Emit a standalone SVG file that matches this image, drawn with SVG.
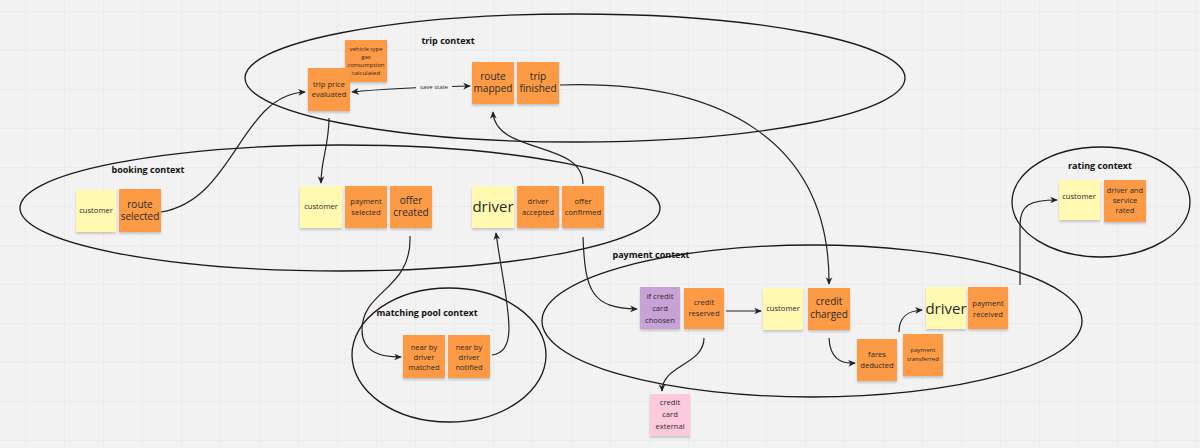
<svg xmlns="http://www.w3.org/2000/svg" width="1200" height="448" viewBox="0 0 1200 448">
<defs>
<pattern id="grid" width="39" height="39" patternUnits="userSpaceOnUse" x="26" y="12">
<rect width="39" height="39" fill="#f2f2f2"/>
<path d="M39 0V39M0 39H39" stroke="#e4e4e4" stroke-width="1" fill="none"/>
</pattern>
<marker id="ah" viewBox="0 0 10 10" refX="8" refY="5" markerWidth="7" markerHeight="7" orient="auto-start-reverse">
<path d="M0 1L9 5L0 9L2.5 5Z" fill="#222"/>
</marker>
<filter id="sh" x="-20%" y="-20%" width="140%" height="150%"><feDropShadow dx="0" dy="2" stdDeviation="1.2" flood-color="#000" flood-opacity="0.18"/></filter>
</defs>
<style>
.ctx{fill:none;stroke:#1a1a1a;stroke-width:1.3}
.lbl{font-family:"Open Sans","Liberation Sans",sans-serif;font-weight:bold;font-size:9px;fill:#111;text-anchor:middle}
.o{fill:#fc9a45;filter:url(#sh)}
.y{fill:#fff9b1;filter:url(#sh)}
.p{fill:#c8a2d6;filter:url(#sh)}
.k{fill:#fdc9dd;filter:url(#sh)}
text{font-family:"Open Sans","Liberation Sans",sans-serif;fill:#2a2a2a;text-anchor:middle}
.m{font-size:10px}
.s{font-size:7.6px}
.xs{font-size:6px}
.b{font-size:15px}
.c{fill:none;stroke:#222;stroke-width:1.2}
</style>
<rect width="1200" height="448" fill="url(#grid)"/>
<g id="contexts">
<ellipse class="ctx" cx="575" cy="78" rx="330" ry="64"/>
<text class="lbl" x="448" y="44">trip context</text>
<ellipse class="ctx" cx="340" cy="208" rx="320" ry="63"/>
<text class="lbl" x="148" y="173">booking context</text>
<ellipse class="ctx" cx="449" cy="355" rx="97" ry="67"/>
<text class="lbl" x="427" y="316">matching pool context</text>
<ellipse class="ctx" cx="812" cy="321" rx="270" ry="76"/>
<text class="lbl" x="651" y="258">payment context</text>
<ellipse class="ctx" cx="1101" cy="202" rx="89" ry="55"/>
<text class="lbl" x="1100" y="169">rating context</text>
</g>
<g id="connectors">
<path class="c" d="M161,212 C235,200 240,95 305,92" marker-end="url(#ah)"/>
<path class="c" d="M352,92 C390,88 430,87 470,86" marker-start="url(#ah)" marker-end="url(#ah)"/>
<rect x="416" y="82" width="36" height="9" fill="#f2f2f2"/>
<text class="xs" x="434" y="89">save state</text>
<path class="c" d="M329,118 C329,145 321,160 321,183" marker-end="url(#ah)"/>
<path class="c" d="M560,85 C720,80 830,140 829,284" marker-end="url(#ah)"/>
<path class="c" d="M583,184 C583,140 495,155 493,112" marker-end="url(#ah)"/>
<path class="c" d="M410,236 C412,290 362,290 362,330 C362,352 380,357 401,357" marker-end="url(#ah)"/>
<path class="c" d="M492,355 C522,352 505,300 496,233" marker-end="url(#ah)"/>
<path class="c" d="M583,237 C585,292 592,308 637,309" marker-end="url(#ah)"/>
<path class="c" d="M726,311 L761,311" marker-end="url(#ah)"/>
<path class="c" d="M704,338 C704,365 662,365 662,391" marker-end="url(#ah)"/>
<path class="c" d="M829,338 C830,358 840,364 855,363" marker-end="url(#ah)"/>
<path class="c" d="M899,332 C899,318 906,311 922,310" marker-end="url(#ah)"/>
<path class="c" d="M1020,285 L1020,225 C1020,205 1030,200 1057,200" marker-end="url(#ah)"/>
</g>
<g id="n-vehicle"><rect class="o" x="345" y="40" width="42" height="42"/><text class="xs"><tspan x="366" y="51">vehicle type</tspan><tspan x="366" y="59">gas</tspan><tspan x="366" y="67">consumption</tspan><tspan x="366" y="75">calculated</tspan></text></g>
<g id="n-tripprice"><rect class="o" x="308" y="68" width="42" height="43"/><text class="s"><tspan x="329" y="87">trip price</tspan><tspan x="329" y="97">evaluated</tspan></text></g>
<g id="n-routemapped"><rect class="o" x="472" y="62" width="42" height="42"/><text class="m"><tspan x="493" y="80">route</tspan><tspan x="493" y="92">mapped</tspan></text></g>
<g id="n-tripfinished"><rect class="o" x="517" y="62" width="42" height="42"/><text class="m"><tspan x="538" y="80">trip</tspan><tspan x="538" y="92">finished</tspan></text></g>
<g id="n-customer1"><rect class="y" x="76" y="190" width="40" height="42"/><text class="s" x="96" y="213">customer</text></g>
<g id="n-routeselected"><rect class="o" x="119" y="189" width="42" height="43"/><text class="m"><tspan x="140" y="208">route</tspan><tspan x="140" y="220">selected</tspan></text></g>
<g id="n-customer2"><rect class="y" x="300" y="186" width="42" height="42"/><text class="s" x="321" y="209">customer</text></g>
<g id="n-payselected"><rect class="o" x="345" y="186" width="42" height="42"/><text class="s"><tspan x="366" y="204">payment</tspan><tspan x="366" y="215">selected</tspan></text></g>
<g id="n-offercreated"><rect class="o" x="390" y="186" width="42" height="42"/><text class="m"><tspan x="411" y="204">offer</tspan><tspan x="411" y="216">created</tspan></text></g>
<g id="n-driver1"><rect class="y" x="472" y="186" width="42" height="42"/><text class="b" x="493" y="212">driver</text></g>
<g id="n-driveraccepted"><rect class="o" x="517" y="186" width="42" height="42"/><text class="s"><tspan x="538" y="204">driver</tspan><tspan x="538" y="215">accepted</tspan></text></g>
<g id="n-offerconfirmed"><rect class="o" x="562" y="186" width="42" height="42"/><text class="s"><tspan x="583" y="204">offer</tspan><tspan x="583" y="215">confirmed</tspan></text></g>
<g id="n-matched"><rect class="o" x="403" y="335" width="42" height="43"/><text class="s"><tspan x="424" y="350">near by</tspan><tspan x="424" y="360">driver</tspan><tspan x="424" y="370">matched</tspan></text></g>
<g id="n-notified"><rect class="o" x="448" y="335" width="42" height="43"/><text class="s"><tspan x="469" y="350">near by</tspan><tspan x="469" y="360">driver</tspan><tspan x="469" y="370">notified</tspan></text></g>
<g id="n-ifcc"><rect class="p" x="640" y="287" width="40" height="42"/><text class="s"><tspan x="660" y="299">if credit</tspan><tspan x="660" y="311">card</tspan><tspan x="660" y="323">choosen</tspan></text></g>
<g id="n-creditreserved"><rect class="o" x="684" y="288" width="40" height="41"/><text class="s"><tspan x="704" y="305">credit</tspan><tspan x="704" y="316">reserved</tspan></text></g>
<g id="n-customer3"><rect class="y" x="763" y="288" width="40" height="42"/><text class="s" x="783" y="311">customer</text></g>
<g id="n-creditcharged"><rect class="o" x="808" y="288" width="42" height="42"/><text class="m"><tspan x="829" y="305">credit</tspan><tspan x="829" y="318">charged</tspan></text></g>
<g id="n-fares"><rect class="o" x="857" y="339" width="40" height="42"/><text class="s"><tspan x="877" y="357">fares</tspan><tspan x="877" y="368">deducted</tspan></text></g>
<g id="n-paytransferred"><rect class="o" x="903" y="334" width="40" height="42"/><text class="xs"><tspan x="923" y="352">payment</tspan><tspan x="923" y="361">transferred</tspan></text></g>
<g id="n-driver2"><rect class="y" x="926" y="287" width="40" height="42"/><text class="b" x="946" y="314">driver</text></g>
<g id="n-payreceived"><rect class="o" x="968" y="287" width="40" height="42"/><text class="s"><tspan x="988" y="306">payment</tspan><tspan x="988" y="317">received</tspan></text></g>
<g id="n-ccexternal"><rect class="k" x="650" y="394" width="40" height="42"/><text class="s"><tspan x="670" y="405">credit</tspan><tspan x="670" y="417">card</tspan><tspan x="670" y="429">external</tspan></text></g>
<g id="n-customer4"><rect class="y" x="1059" y="180" width="41" height="40"/><text class="s" x="1079" y="199">customer</text></g>
<g id="n-rated"><rect class="o" x="1104" y="180" width="42" height="42"/><text class="s"><tspan x="1125" y="193">driver and</tspan><tspan x="1125" y="203">service</tspan><tspan x="1125" y="213">rated</tspan></text></g>
</svg>
